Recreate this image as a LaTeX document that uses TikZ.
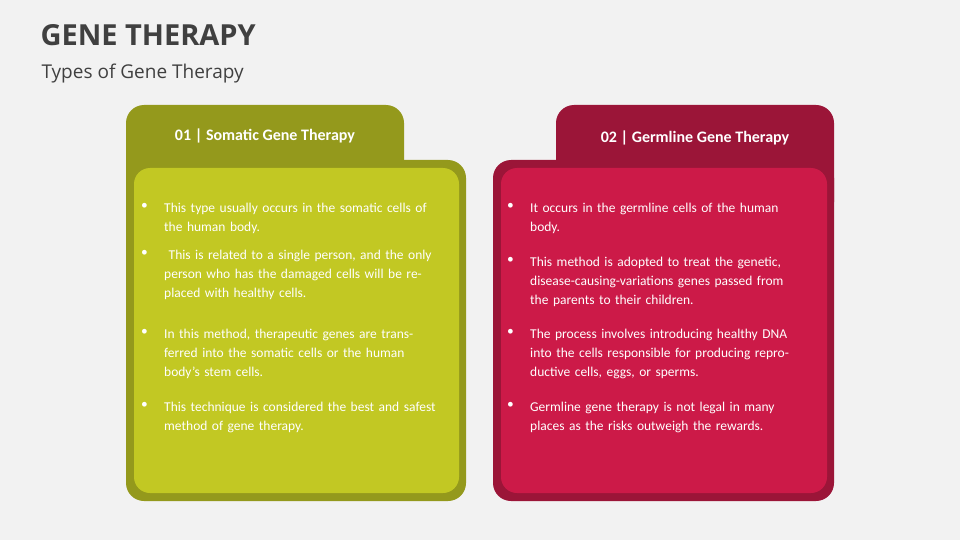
\documentclass[tikz,border=0pt]{standalone}
\usepackage{fontspec}
\setmainfont{Carlito}
\newfontfamily\titlefont{Open Sans}
\definecolor{bg}{HTML}{F2F2F2}
\definecolor{olivedark}{HTML}{94991C}
\definecolor{olivelight}{HTML}{C2C823}
\definecolor{reddark}{HTML}{9B1538}
\definecolor{redlight}{HTML}{CC1A48}
\definecolor{inkgray}{HTML}{404040}
\tikzset{
  x=1pt, y=-1pt,
  pointtext/.style={anchor=north west, text=white, text width=272pt, align=left,
    inner sep=0pt, font=\fontsize{13.5}{19}\selectfont},
  bulletdot/.style={anchor=north west, text=white, inner sep=0pt,
    font=\fontsize{13.5}{19}\selectfont},
  headtext/.style={text=white, font=\bfseries\fontsize{16}{19}\selectfont}
}
\begin{document}
\begin{tikzpicture}
  \fill[bg] (0,0) rectangle (960,540);
  \useasboundingbox (0,0) rectangle (960,540);

  % title
  \node[anchor=west, text=inkgray, font=\titlefont\bfseries\fontsize{29}{34}\selectfont] (title) at (37,35) {GENE THERAPY};
  \node[anchor=west, text=inkgray, font=\titlefont\fontsize{19}{22}\selectfont] (subtitle) at (38,74) {Types of Gene Therapy};

  % somatic card
  \fill[olivedark, rounded corners=18pt] (126,105) rectangle (404,220);
  \fill[olivedark, rounded corners=18pt] (126,160) rectangle (466,501);
  \fill[olivelight, rounded corners=16pt] (134,168) rectangle (459,493);
  \node[headtext] (somatichead) at (265,136) {01 | Somatic Gene Therapy};

  % germline card
  \fill[reddark, rounded corners=18pt] (556,105) rectangle (834,220);
  \fill[reddark, rounded corners=18pt] (493,160) rectangle (834,501);
  \fill[redlight, rounded corners=16pt] (501,168) rectangle (827,493);
  \node[headtext] (germlinehead) at (695,138) {02 | Germline Gene Therapy};

  % somatic points
  \foreach \ypos/\txt in {
    203/{This type usually occurs in the somatic cells of the human body.},
    250/{\ This is related to a single person, and the only person who has the damaged cells will be replaced with healthy cells.},
    329/{In this method, therapeutic genes are transferred into the somatic cells or the human body’s stem cells.},
    402/{This technique is considered the best and safest method of gene therapy.}} {
    \node[bulletdot] at (141,\ypos) {•};
    \node[pointtext] at (164,\ypos) {\txt};
  }

  % germline points
  \foreach \ypos/\txt in {
    203/{It occurs in the germline cells of the human body.},
    257/{This method is adopted to treat the genetic, disease-causing-variations genes passed from the parents to their children.},
    329/{The process involves introducing healthy DNA into the cells responsible for producing reproductive cells, eggs, or sperms.},
    402/{Germline gene therapy is not legal in many places as the risks outweigh the rewards.}} {
    \node[bulletdot] at (507,\ypos) {•};
    \node[pointtext] at (530,\ypos) {\txt};
  }
\end{tikzpicture}
\end{document}
